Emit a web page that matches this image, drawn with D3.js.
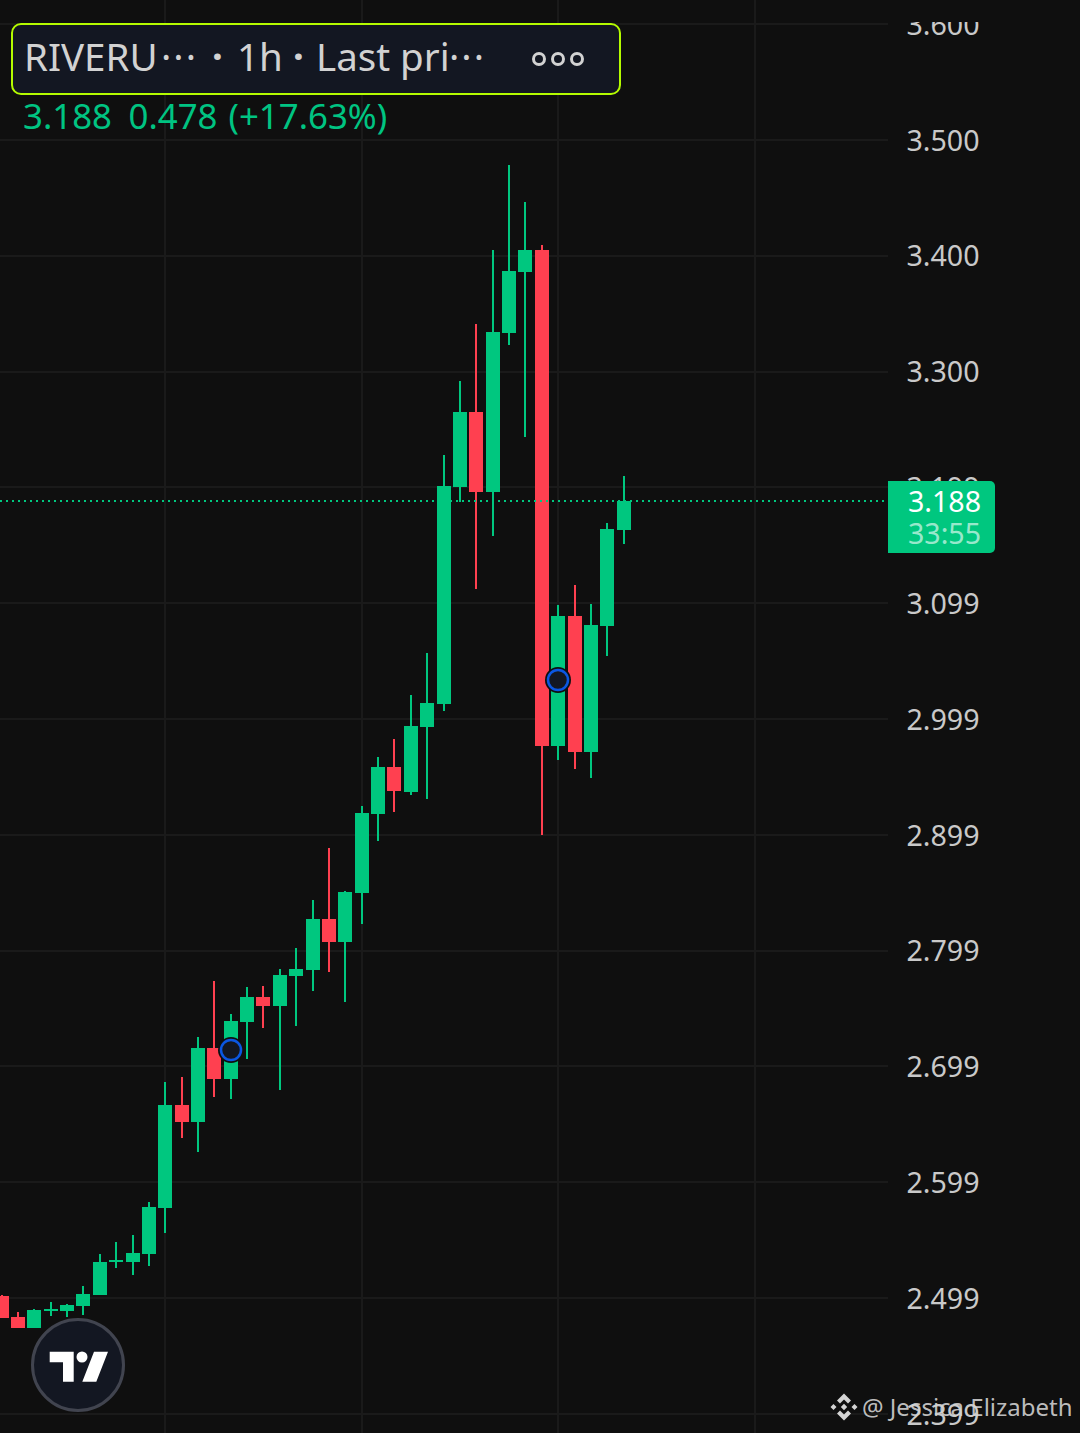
<!DOCTYPE html>
<html>
<head>
<meta charset="utf-8">
<script src="https://cdn.jsdelivr.net/npm/d3@7"></script>
<style>
  html, body { margin: 0; padding: 0; background: #0f0f0f; overflow: hidden; }
  svg { display: block; font-family: "Noto Sans", sans-serif; }
</style>
</head>
<body>
<div id="chart"></div>
<script>
// candles, oldest first
const opens = [2.5019,2.4837,2.4742,2.4889,2.4889,2.4932,2.5027,2.5312,2.5312,2.5381,2.5778,2.6668,2.6521,2.7160,2.6892,2.7384,2.7600,2.7522,2.7781,2.7833,2.8273,2.8075,2.8498,2.9180,2.9586,2.9370,2.9931,3.0129,3.2003,3.2650,3.1960,3.3332,3.3859,3.4049,2.9767,3.0889,2.9715,3.0803,3.1632];
const highs = [2.5027,2.4881,2.4906,2.4967,2.4950,2.5105,2.5381,2.5485,2.5545,2.5830,2.6866,2.6909,2.7255,2.7738,2.7453,2.7686,2.7695,2.7842,2.8023,2.8437,2.8886,2.8515,2.9249,2.9672,2.9827,3.0207,3.0570,3.2279,3.2918,3.3410,3.4049,3.4783,3.4463,3.4092,3.0984,3.1157,3.0993,3.1692,3.2098];
const lows = [2.4829,2.4742,2.4742,2.4846,2.4837,2.4855,2.5027,2.5260,2.5200,2.5278,2.5563,2.6383,2.6262,2.6737,2.6719,2.7065,2.7332,2.6797,2.7350,2.7652,2.7816,2.7557,2.8230,2.8947,2.9197,2.9344,2.9309,3.0069,3.1873,3.1122,3.1580,3.3229,3.2435,2.8999,2.9646,2.9568,2.9491,3.0544,3.1511];
const closes = [2.4829,2.4742,2.4898,2.4906,2.4941,2.5036,2.5312,2.5329,2.5390,2.5787,2.6668,2.6521,2.7160,2.6892,2.7393,2.7600,2.7522,2.7790,2.7842,2.8273,2.8075,2.8506,2.9188,2.9586,2.9378,2.9940,3.0138,3.2012,3.2650,3.1960,3.3341,3.3868,3.4049,2.9767,3.0889,2.9715,3.0812,3.1640,3.1882];

const priceTicks = [3.6,3.5,3.4,3.3,3.2,3.1,3.0,2.9,2.8,2.7,2.6,2.5,2.4];
const priceLabels = ['3.600','3.500','3.400','3.300','3.199','3.099','2.999','2.899','2.799','2.699','2.599','2.499','2.399'];
const timeTicks = [10,22,34,46];
const markerIndex = [14,34];
const markerPrice = [2.7142,3.0337];
const lastPrice = 3.188;
const countdown = '33:55';

const width = 1080;
const height = 1433;
const axisLeft = 888;
const green = '#00c77f';
const red = '#ff4050';
const panel = '#131722';

const svg = d3.select('#chart').append('svg')
  .attr('width', width)
  .attr('height', height)
  .attr('viewBox', `0 0 ${width} ${height}`);

svg.append('rect').attr('width', width).attr('height', height).attr('fill', '#0f0f0f');

// about 16.37px per hourly candle
const x = d3.scaleLinear().domain([0, 38]).range([1.56, 623.62]);
const y = d3.scaleLinear().domain([2.4, 3.6]).range([1414, 24]);
const py = v => Math.round(y(v));
const px = i => Math.round(x(i));

const candles = opens.map((o, i) => ({ i, o, h: highs[i], l: lows[i], c: closes[i] }));

// grid
const grid = svg.append('g');
grid.selectAll('line.h').data(priceTicks).join('line')
  .attr('class', 'h')
  .attr('x1', 0).attr('x2', axisLeft)
  .attr('y1', d => py(d)).attr('y2', d => py(d))
  .attr('stroke', '#1a1a1a').attr('stroke-width', 2);
grid.selectAll('line.v').data(timeTicks).join('line')
  .attr('class', 'v')
  .attr('x1', d => px(d)).attr('x2', d => px(d))
  .attr('y1', 0).attr('y2', height)
  .attr('stroke', '#1a1a1a').attr('stroke-width', 2);

// price axis, top label is cut off by the pane edge
svg.append('clipPath').attr('id', 'axis-clip')
  .append('rect').attr('x', 0).attr('y', 22).attr('width', 192).attr('height', height);

const axis = svg.append('g')
  .attr('clip-path', 'url(#axis-clip)')
  .attr('transform', `translate(${axisLeft},0)`)
  .call(d3.axisRight(y).tickValues(priceTicks).tickSize(0).tickPadding(18.5).offset(0)
    .tickFormat((d, i) => priceLabels[i]));
axis.select('.domain').remove();
axis.selectAll('text')
  .attr('y', 1.6)
  .attr('fill', '#c9c9c9')
  .attr('font-size', 28.6)
  .attr('font-family', '"Noto Sans", sans-serif');

// wicks then bodies
const color = d => (d.c >= d.o ? green : red);
svg.append('g').selectAll('rect').data(candles).join('rect')
  .attr('x', d => px(d.i) - 1)
  .attr('width', 2)
  .attr('y', d => py(d.h))
  .attr('height', d => py(d.l) - py(d.h))
  .attr('fill', color);
svg.append('g').selectAll('rect').data(candles).join('rect')
  .attr('x', d => px(d.i) - 7)
  .attr('width', 14)
  .attr('y', d => py(Math.max(d.o, d.c)))
  .attr('height', d => Math.max(2, py(Math.min(d.o, d.c)) - py(Math.max(d.o, d.c))))
  .attr('fill', color);

// last price line
svg.append('line')
  .attr('x1', 0).attr('x2', axisLeft)
  .attr('y1', py(lastPrice)).attr('y2', py(lastPrice))
  .attr('stroke', green).attr('stroke-width', 2)
  .attr('stroke-dasharray', '2 4');

// markers
const markers = svg.append('g').selectAll('g').data(markerIndex).join('g')
  .attr('transform', (d, i) => `translate(${px(d)},${py(markerPrice[i])})`);
markers.append('circle').attr('r', 13).attr('fill', '#0f0f0f');
markers.append('circle').attr('r', 10).attr('fill', panel)
  .attr('stroke', '#0b57e3').attr('stroke-width', 2.5);

// last price tag
svg.append('path')
  .attr('d', `M${axisLeft},${py(lastPrice) - 20}H990a5,5 0 0 1 5,5V548a5,5 0 0 1 -5,5H${axisLeft}Z`)
  .attr('fill', green);
svg.append('text').attr('x', 944.5).attr('y', 512).attr('text-anchor', 'middle')
  .attr('font-size', 28.6).attr('fill', '#fff').text(lastPrice.toFixed(3));
svg.append('text').attr('x', 944.5).attr('y', 544).attr('text-anchor', 'middle')
  .attr('font-size', 28.6).attr('fill', '#fff').attr('fill-opacity', 0.62).text(countdown);

// header
svg.append('rect')
  .attr('x', 12).attr('y', 24).attr('width', 608).attr('height', 70).attr('rx', 9)
  .attr('fill', panel).attr('stroke', '#b4fb00').attr('stroke-width', 2);
const titleParts = [[24, 'RIVERU', 38.5, 400, 0], [161, '···', 38.5, 400, 2], [212, '·', 38.5, 700, 0], [237, '1h', 38.5, 400, 0], [293, '·', 38.5, 700, 0], [316, 'Last pri', 38.5, 400, 0], [449, '···', 38.5, 400, 2]];
svg.append('g').selectAll('text').data(titleParts).join('text')
  .attr('x', d => d[0]).attr('y', 71)
  .attr('font-size', d => d[2]).attr('font-weight', d => d[3]).attr('letter-spacing', d => d[4])
  .attr('fill', '#d2d2d2')
  .text(d => d[1]);
svg.append('g').selectAll('circle').data([539, 558, 577]).join('circle')
  .attr('cx', d => d).attr('cy', 59).attr('r', 5.5)
  .attr('fill', 'none').attr('stroke', '#d2d2d2').attr('stroke-width', 3);

const change = lastPrice - 2.71;
const quote = [[23, lastPrice.toFixed(3)], [128.5, change.toFixed(3)], [228.5, '(+17.63%)']];
svg.append('g').selectAll('text').data(quote).join('text')
  .attr('x', d => d[0]).attr('y', 129)
  .attr('font-size', 34.8).attr('fill', '#00c482')
  .text(d => d[1]);

// tradingview badge
const logo = svg.append('g').attr('transform', 'translate(78,1365)');
logo.append('circle').attr('r', 45.5).attr('fill', panel).attr('stroke', '#41444f').attr('stroke-width', 3);
logo.append('path').attr('fill', '#fff')
  .attr('d', 'M-28.3,-13.3H-4.3V16.7H-15V-2.7H-28.3ZM16,-13.3H30L18.3,16.7H4.3Z');
logo.append('circle').attr('cx', 4).attr('cy', -8).attr('r', 5.5).attr('fill', '#fff');

// watermark
const mark = svg.append('g').attr('transform', 'translate(844,1407)').attr('fill', '#d4d4d4');
mark.append('path')
  .attr('d', 'M0,-13.5L7,-6.5L4,-3.5L0,-7.5L-4,-3.5L-7,-6.5ZM0,13.5L7,6.5L4,3.5L0,7.5L-4,3.5L-7,6.5ZM-13.5,0L-10.5,-3L-7.5,0L-10.5,3ZM13.5,0L10.5,-3L7.5,0L10.5,3ZM0,-3.2L3.2,0L0,3.2L-3.2,0Z');
svg.append('text').attr('x', 862).attr('y', 1416)
  .attr('font-size', 24).attr('fill', '#d4d4d4').attr('fill-opacity', 0.9)
  .text('@ Jessica Elizabeth');
</script>
</body>
</html>
